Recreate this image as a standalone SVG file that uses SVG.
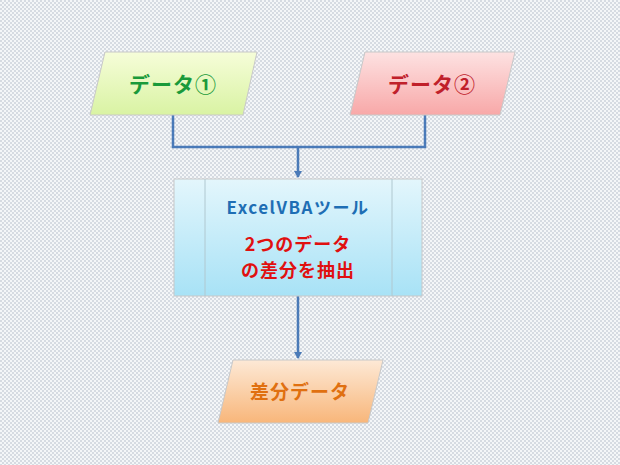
<svg xmlns="http://www.w3.org/2000/svg" width="620" height="465" viewBox="0 0 620 465">
<defs>
<pattern id="bg" width="4" height="4" patternUnits="userSpaceOnUse"><rect width="4" height="4" fill="#f4f6f8"/><rect width="2" height="2" fill="#d6dbe2"/><rect x="2" y="2" width="2" height="2" fill="#d6dbe2"/></pattern>
<linearGradient id="g1" x1="0" y1="0" x2="0" y2="1"><stop offset="0" stop-color="#f6fdd9"/><stop offset="1" stop-color="#d9f3a3"/></linearGradient>
<linearGradient id="g2" x1="0" y1="0" x2="0" y2="1"><stop offset="0" stop-color="#fde2e2"/><stop offset="1" stop-color="#f8a8a8"/></linearGradient>
<linearGradient id="g3" x1="0" y1="0" x2="0" y2="1"><stop offset="0" stop-color="#e3f6fc"/><stop offset="1" stop-color="#a8e2f6"/></linearGradient>
<linearGradient id="g4" x1="0" y1="0" x2="0" y2="1"><stop offset="0" stop-color="#fde9d6"/><stop offset="1" stop-color="#f8b67a"/></linearGradient>
<marker id="ar" markerWidth="8" markerHeight="8" refX="6" refY="4" orient="auto" markerUnits="userSpaceOnUse"><path d="M0,0 L7,4 L0,8 z" fill="#4a7ab8"/></marker>
</defs>
<style>
.sh{stroke:#c8c8c8;stroke-width:1}
.t{font-family:"Noto Sans CJK JP",sans-serif;font-weight:bold;text-anchor:middle}
.c{stroke:#4a7ab8;stroke-width:2.5;fill:none}
</style>
<rect width="620" height="465" fill="url(#bg)"/>
<g id="connectors">
<path class="c" d="M173,115 V147 H425 V115"/>
<path class="c" d="M298,147 V177" marker-end="url(#ar)"/>
<path class="c" d="M298,296 V358" marker-end="url(#ar)"/>
</g>
<g id="data1"><polygon class="sh" points="105,52 257,52 243,115 90,115" fill="url(#g1)"/><text class="t" x="173" y="92" font-size="21" fill="#1a9a3a" letter-spacing="1">データ①</text></g>
<g id="data2"><polygon class="sh" points="365,52 515,52 500,115 350,115" fill="url(#g2)"/><text class="t" x="432" y="92" font-size="21" fill="#c0202a" letter-spacing="1">データ②</text></g>
<g id="tool"><rect class="sh" x="174" y="179" width="248" height="117" fill="url(#g3)"/>
<line x1="205" y1="179" x2="205" y2="296" stroke="#b0c8d0"/><line x1="392" y1="179" x2="392" y2="296" stroke="#b0c8d0"/>
<text class="t" x="298" y="214" font-size="17" fill="#1e6eb4" letter-spacing="1.5">ExcelVBAツール</text>
<text class="t" x="298" y="251" font-size="18" fill="#e01010" letter-spacing="1">2つのデータ</text>
<text class="t" x="298" y="277" font-size="18" fill="#e01010" letter-spacing="1">の差分を抽出</text></g>
<g id="out"><polygon class="sh" points="233,360 383,360 368,423 218,423" fill="url(#g4)"/><text class="t" x="300" y="399" font-size="19" fill="#e07010" letter-spacing="1">差分データ</text></g>
</svg>
